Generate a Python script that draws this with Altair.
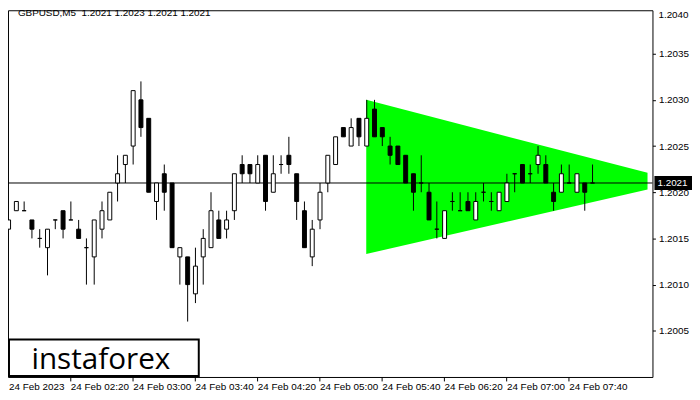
import altair as alt
import pandas as pd

# ---- candle data (M5, index 0 = 24 Feb 01:40) ----
opens = [1.2016, 1.2018, 1.2018, 1.2017, 1.2015, 1.2014, 1.2017, 1.2018, 1.2017, 1.2016,
         1.2014, 1.2013, 1.2016, 1.2017, 1.2021, 1.2023, 1.2025, 1.2030, 1.2028, 1.2019,
         1.2022, 1.2021, 1.2013, 1.2013, 1.2009, 1.2013, 1.2014, 1.2017, 1.2016, 1.2018,
         1.2023, 1.2023, 1.2021, 1.2024, 1.2020, 1.2023, 1.2024, 1.2022, 1.2018, 1.2013,
         1.2017, 1.2021, 1.2023, 1.2027, 1.2025, 1.2028, 1.2025, 1.2029, 1.2027, 1.2025,
         1.2025, 1.2024, 1.2022, 1.2021, 1.2020, 1.2016, 1.2015, 1.2019, 1.2018, 1.2019,
         1.2017, 1.2020, 1.2019, 1.2018, 1.2019, 1.2022, 1.2023, 1.2022, 1.2023, 1.2023,
         1.2020, 1.2020, 1.2021, 1.2020, 1.2021, 1.2021]
highs = [1.2017, 1.2019, 1.2019, 1.2017, 1.2016, 1.2016, 1.2017, 1.2018, 1.2019, 1.2017,
         1.2015, 1.2017, 1.2019, 1.2020, 1.2024, 1.2024, 1.2031, 1.2032, 1.2028, 1.2021,
         1.2023, 1.2021, 1.2014, 1.2013, 1.2014, 1.2016, 1.2020, 1.2018, 1.2018, 1.2022,
         1.2024, 1.2023, 1.2024, 1.2024, 1.2024, 1.2024, 1.2026, 1.2022, 1.2019, 1.2017,
         1.2021, 1.2024, 1.2026, 1.2027, 1.2028, 1.2028, 1.2030, 1.2030, 1.2027, 1.2026,
         1.2025, 1.2024, 1.2022, 1.2024, 1.2021, 1.2019, 1.2018, 1.2020, 1.2020, 1.2020,
         1.2020, 1.2021, 1.2020, 1.2020, 1.2022, 1.2022, 1.2023, 1.2023, 1.2025, 1.2024,
         1.2021, 1.2023, 1.2023, 1.2022, 1.2021, 1.2023]
lows = [1.2016, 1.2018, 1.2018, 1.2015, 1.2014, 1.2011, 1.2016, 1.2015, 1.2017, 1.2015,
        1.2010, 1.2010, 1.2015, 1.2017, 1.2019, 1.2021, 1.2023, 1.2026, 1.2020, 1.2017,
        1.2018, 1.2014, 1.2010, 1.2006, 1.2008, 1.2010, 1.2014, 1.2015, 1.2015, 1.2017,
        1.2021, 1.2021, 1.2021, 1.2018, 1.2020, 1.2022, 1.2022, 1.2017, 1.2014, 1.2012,
        1.2016, 1.2020, 1.2023, 1.2026, 1.2025, 1.2025, 1.2025, 1.2026, 1.2025, 1.2023,
        1.2023, 1.2021, 1.2018, 1.2020, 1.2017, 1.2015, 1.2015, 1.2018, 1.2018, 1.2018,
        1.2017, 1.2019, 1.2018, 1.2018, 1.2019, 1.2020, 1.2021, 1.2021, 1.2022, 1.2021,
        1.2018, 1.2020, 1.2021, 1.2020, 1.2018, 1.2021]
closes = [1.2017, 1.2019, 1.2018, 1.2016, 1.2015, 1.2016, 1.2017, 1.2016, 1.2017, 1.2015,
          1.2014, 1.2017, 1.2018, 1.2020, 1.2022, 1.2024, 1.2031, 1.2027, 1.2020, 1.2021,
          1.2020, 1.2014, 1.2014, 1.2010, 1.2012, 1.2015, 1.2018, 1.2015, 1.2017, 1.2022,
          1.2022, 1.2022, 1.2023, 1.2019, 1.2022, 1.2023, 1.2023, 1.2019, 1.2014, 1.2016,
          1.2020, 1.2024, 1.2026, 1.2026, 1.2027, 1.2026, 1.2028, 1.2026, 1.2026, 1.2024,
          1.2023, 1.2021, 1.2020, 1.2021, 1.2017, 1.2016, 1.2018, 1.2019, 1.2018, 1.2018,
          1.2019, 1.2020, 1.2019, 1.2020, 1.2021, 1.2022, 1.2021, 1.2022, 1.2024, 1.2021,
          1.2019, 1.2022, 1.2021, 1.2022, 1.2020, 1.2021]

# ---- bullish triangle pattern ----
tri_x = [46, 82.125]
tri_top = [1.2030, 1.20221]
tri_bottom = [1.20133, 1.20203]

# ---- axes ----
time_ticks = [8, 16, 24, 32, 40, 48, 56, 64, 72]
time_labels = ["24 Feb 2023", "24 Feb 02:20", "24 Feb 03:00", "24 Feb 03:40", "24 Feb 04:20",
               "24 Feb 05:00", "24 Feb 05:40", "24 Feb 06:20", "24 Feb 07:00", "24 Feb 07:40"]
price_ticks = [1.2005, 1.2010, 1.2015, 1.2020, 1.2025, 1.2030, 1.2035]
top_price_label = "1.2040"
current_price = 1.2021
symbol = "GBPUSD,M5"
logo = "instaforex"

W, H = 652, 371
FONT = "Liberation Sans"

df = pd.DataFrame({"i": list(range(len(opens))), "open": opens, "high": highs,
                   "low": lows, "close": closes})
df["fill"] = ["white" if c >= o else "black" for o, c in zip(opens, closes)]

xs = alt.Scale(domain=[0.625, 82.125], nice=False, zero=False)
ys = alt.Scale(domain=[1.2000, 1.20397], nice=False, zero=False)

label_expr = "[" + ",".join("'%s'" % s for s in time_labels) + "][datum.value/8]"

x_axis = alt.Axis(values=time_ticks, labelExpr=label_expr, title=None, grid=False, domain=False,
                  tickSize=4, tickColor="black", labelAlign="left", labelBaseline="top",
                  labelPadding=1, labelFont=FONT, labelFontSize=10, labelColor="black",
                  labelFlush=False, labelOverlap=False)
y_axis = alt.Axis(values=price_ticks, format=".4f", orient="right", title=None, grid=False,
                  domain=False, tickSize=3, tickColor="black", labelPadding=3, labelFont=FONT,
                  labelFontSize=10, labelColor="black", labelFlush=False, labelOverlap=False)

one = alt.Data(values=[{"k": 0}])

tri_df = pd.DataFrame({"x": tri_x, "top": tri_top, "bot": tri_bottom})
triangle = alt.Chart(tri_df).mark_area(color="#00ff00", opacity=1, interpolate="linear").encode(
    x=alt.X("x:Q", scale=xs, axis=x_axis),
    y=alt.Y("top:Q", scale=ys, axis=y_axis),
    y2="bot:Q",
)

hline = alt.Chart(one).mark_rule(color="black", strokeWidth=1).encode(
    y=alt.datum(current_price)
)

base = alt.Chart(df)
wicks = base.mark_rule(color="black", strokeWidth=1, xOffset=0.5, clip=True).encode(
    x=alt.X("i:Q", scale=xs, axis=x_axis),
    y=alt.Y("low:Q", scale=ys, axis=y_axis),
    y2="high:Q",
)
bodies = base.mark_bar(size=4, stroke="black", strokeWidth=1, xOffset=0.5, clip=True,
                       opacity=1).encode(
    x=alt.X("i:Q", scale=xs, axis=x_axis),
    y=alt.Y("open:Q", scale=ys, axis=y_axis),
    y2="close:Q",
    fill=alt.Fill("fill:N", scale=None),
)

title_text = "%s\u00a0\u00a0%.4f %.4f %.4f %.4f" % (symbol, opens[-1], highs[-1], lows[-1], closes[-1])
title = alt.Chart(one).mark_text(align="left", baseline="alphabetic", font=FONT, fontSize=10,
                                 color="black").encode(
    x=alt.value(10), y=alt.value(6), text=alt.value(title_text))

first_label = alt.Chart(one).mark_text(align="left", baseline="top", font=FONT, fontSize=10,
                                       color="black").encode(
    x=alt.value(1), y=alt.value(H + 5), text=alt.value(time_labels[0]))

top_label = alt.Chart(one).mark_text(align="left", baseline="top", font=FONT, fontSize=10,
                                     color="black").encode(
    x=alt.value(W + 6), y=alt.value(0), text=alt.value(top_price_label))

price_box = alt.Chart(one).mark_point(shape="M-1,-0.37H1V0.37H-1Z", size=1444, filled=True,
                                      color="black", opacity=1).encode(
    x=alt.value(W + 21), y=alt.datum(current_price))
price_text = alt.Chart(one).mark_text(align="left", baseline="middle", font=FONT, fontSize=10,
                                      color="white").encode(
    x=alt.value(W + 5), y=alt.datum(current_price), text=alt.value("%.4f" % current_price))

logo_box = alt.Chart(one).mark_rect(fill="white", stroke="black", strokeWidth=2).encode(
    x=alt.value(1), x2=alt.value(193), y=alt.value(333), y2=alt.value(370))
logo_text = alt.Chart(one).mark_text(align="center", baseline="alphabetic", font="Open Sans",
                                     fontSize=30, color="black").encode(
    x=alt.value(94), y=alt.value(363), text=alt.value(logo))

chart = alt.layer(
    triangle, hline, wicks, bodies, title, first_label, top_label,
    price_box, price_text, logo_box, logo_text
).properties(
    width=W, height=H,
    autosize=alt.AutoSizeParams(type="none"),
    padding={"left": 0, "top": 0, "right": 40, "bottom": 21},
    background="white",
).configure_view(stroke="black", strokeWidth=1)

chart.save("out.html", embed_options={"renderer": "svg", "actions": False})
